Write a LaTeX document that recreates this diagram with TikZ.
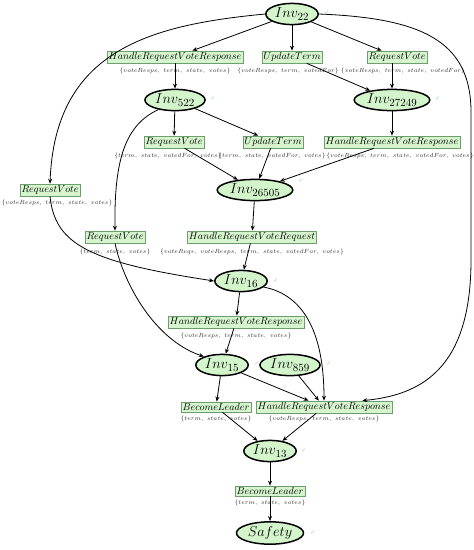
\documentclass[tikz,border=0pt]{standalone}
\usepackage{fontspec}
\newfontfamily\chkfont{DejaVu Sans}
\usetikzlibrary{shapes.geometric,arrows.meta}
\definecolor{invfill}{HTML}{D4F5CC}
\definecolor{actfill}{HTML}{D6F5CE}
\definecolor{actdraw}{HTML}{6E9E6E}
\definecolor{chkcol}{HTML}{9CCF9C}
\tikzset{
  inv/.style={ellipse, draw=black, line width=1.5pt, fill=invfill, inner sep=1.5pt, font=\fontsize{15}{15}\selectfont},
  act/.style={rectangle, draw=actdraw, line width=0.6pt, fill=actfill, inner sep=1.6pt, font=\fontsize{10}{10}\selectfont},
  vars/.style={inner sep=0pt, font=\fontsize{6.5}{6.5}\selectfont, text=black!80},
  chk/.style={inner sep=0pt, font=\chkfont\fontsize{6}{6}\selectfont, text=chkcol},
  conn/.style={-{Stealth[length=5pt,width=4pt]}, line width=0.8pt},
}
\begin{document}
\begin{tikzpicture}[x=1pt,y=-1pt]
\useasboundingbox (0,0) rectangle (474,550);
% invariants
\node[inv] (i22) at (292,14) {$Inv_{22}$};
\node[inv] (i522) at (175,100) {$Inv_{522}$};
\node[inv] (i27249) at (392,100) {$Inv_{27249}$};
\node[inv] (i26505) at (255,190) {$Inv_{26505}$};
\node[inv] (i16) at (241,281) {$Inv_{16}$};
\node[inv] (i15) at (222,365) {$Inv_{15}$};
\node[inv] (i859) at (290,365) {$Inv_{859}$};
\node[inv] (i13) at (270,451) {$Inv_{13}$};
\node[inv] (safe) at (270,533) {$Safety$};
% check marks
\node[chk] (k22) at (327,13) {✓};
\node[chk] (k522) at (213,99) {✓};
\node[chk] (k27249) at (438,99) {✓};
\node[chk] (k26505) at (301,181) {✓};
\node[chk] (k16) at (276,281) {✓};
\node[chk] (k15) at (257,364) {✓};
\node[chk] (k859) at (329,364) {✓};
\node[chk] (k13) at (304,451) {✓};
\node[chk] (ksafe) at (313,533) {✓};
% actions
\node[act] (a1) at (175,57) {$HandleRequestVoteResponse$};
\node[vars] (a1v) at (175,71) {$\{voteResps,\ term,\ state,\ votes\}$};
\node[act] (a2) at (292,57) {$UpdateTerm$};
\node[vars] (a2v) at (288,71) {$\{voteResps,\ term,\ votedFor\}$};
\node[act] (a3) at (397,57) {$RequestVote$};
\node[vars] (a3v) at (403,71) {$\{voteResps,\ term,\ state,\ votedFor\}$};
\node[act] (b1) at (174,142) {$RequestVote$};
\node[vars] (b1v) at (168,156) {$\{term,\ state,\ votedFor,\ votes\}$};
\node[act] (b2) at (273,142) {$UpdateTerm$};
\node[vars] (b2v) at (272,156) {$\{term,\ state,\ votedFor,\ votes\}$};
\node[act] (b3) at (392,142) {$HandleRequestVoteResponse$};
\node[vars] (b3v) at (400,156) {$\{voteResps,\ term,\ state,\ votedFor,\ votes\}$};
\node[act] (c) at (50,190) {$RequestVote$};
\node[vars] (cv) at (57,203) {$\{voteResps,\ term,\ state,\ votes\}$};
\node[act] (d1) at (115,237) {$RequestVote$};
\node[vars] (d1v) at (115,252) {$\{term,\ state,\ votes\}$};
\node[act] (d2) at (252,237) {$HandleRequestVoteRequest$};
\node[vars] (d2v) at (252,252) {$\{voteReqs,\ voteResps,\ term,\ state,\ votedFor,\ votes\}$};
\node[act] (e) at (236,322) {$HandleRequestVoteResponse$};
\node[vars] (ev) at (236,336) {$\{voteResps,\ term,\ state,\ votes\}$};
\node[act] (f1) at (216,407) {$BecomeLeader$};
\node[vars] (f1v) at (216,419) {$\{term,\ state,\ votes\}$};
\node[act] (f2) at (324,407) {$HandleRequestVoteResponse$};
\node[vars] (f2v) at (324,419) {$\{voteResps,\ term,\ state,\ votes\}$};
\node[act] (g) at (270,491) {$BecomeLeader$};
\node[vars] (gv) at (270,503) {$\{term,\ state,\ votes\}$};
% connectors
\draw[conn] (i22) -- (a1);
\draw[conn] (i22) -- (a2);
\draw[conn] (i22) -- (a3);
\draw[conn] (a1) -- (i522);
\draw[conn] (a2) -- (i27249);
\draw[conn] (a3.south -| i27249) -- (i27249);
\draw[conn] (i522) -- (b1);
\draw[conn] (i522) -- (b2);
\draw[conn] (i27249) -- (b3);
\draw[conn] (b1) -- (i26505);
\draw[conn] (b2) -- (i26505);
\draw[conn] (b3) -- (i26505);
\draw[conn] (i26505) -- (d2);
\draw[conn] (d2) -- (i16);
\draw[conn] (i16) -- (e);
\draw[conn] (e) -- (i15);
\draw[conn] (i15) -- (f1);
\draw[conn] (i15) -- (f2);
\draw[conn] (i859) -- (f2);
\draw[conn] (f1) -- (i13);
\draw[conn] (f2) -- (i13);
\draw[conn] (i13) -- (g);
\draw[conn] (g) -- (safe);
\draw[conn] (i22.west) .. controls (150,25) and (55,50) .. (c.north);
\draw[conn] (c.south) .. controls (55,245) and (90,262) .. (i16.west);
\draw[conn] (i522.210) .. controls (125,125) and (114,160) .. (d1.north);
\draw[conn] (d1.south) .. controls (124,285) and (155,340) .. (i15.155);
\draw[conn] (i16.-15) .. controls (305,295) and (324,335) .. (f2.north);
\draw[conn] (i22.east) .. controls (420,18) and (470,40) .. (471,110) -- (471,260) .. controls (471,370) and (420,395) .. ([xshift=-30pt]f2.north east);
\end{tikzpicture}
\end{document}
